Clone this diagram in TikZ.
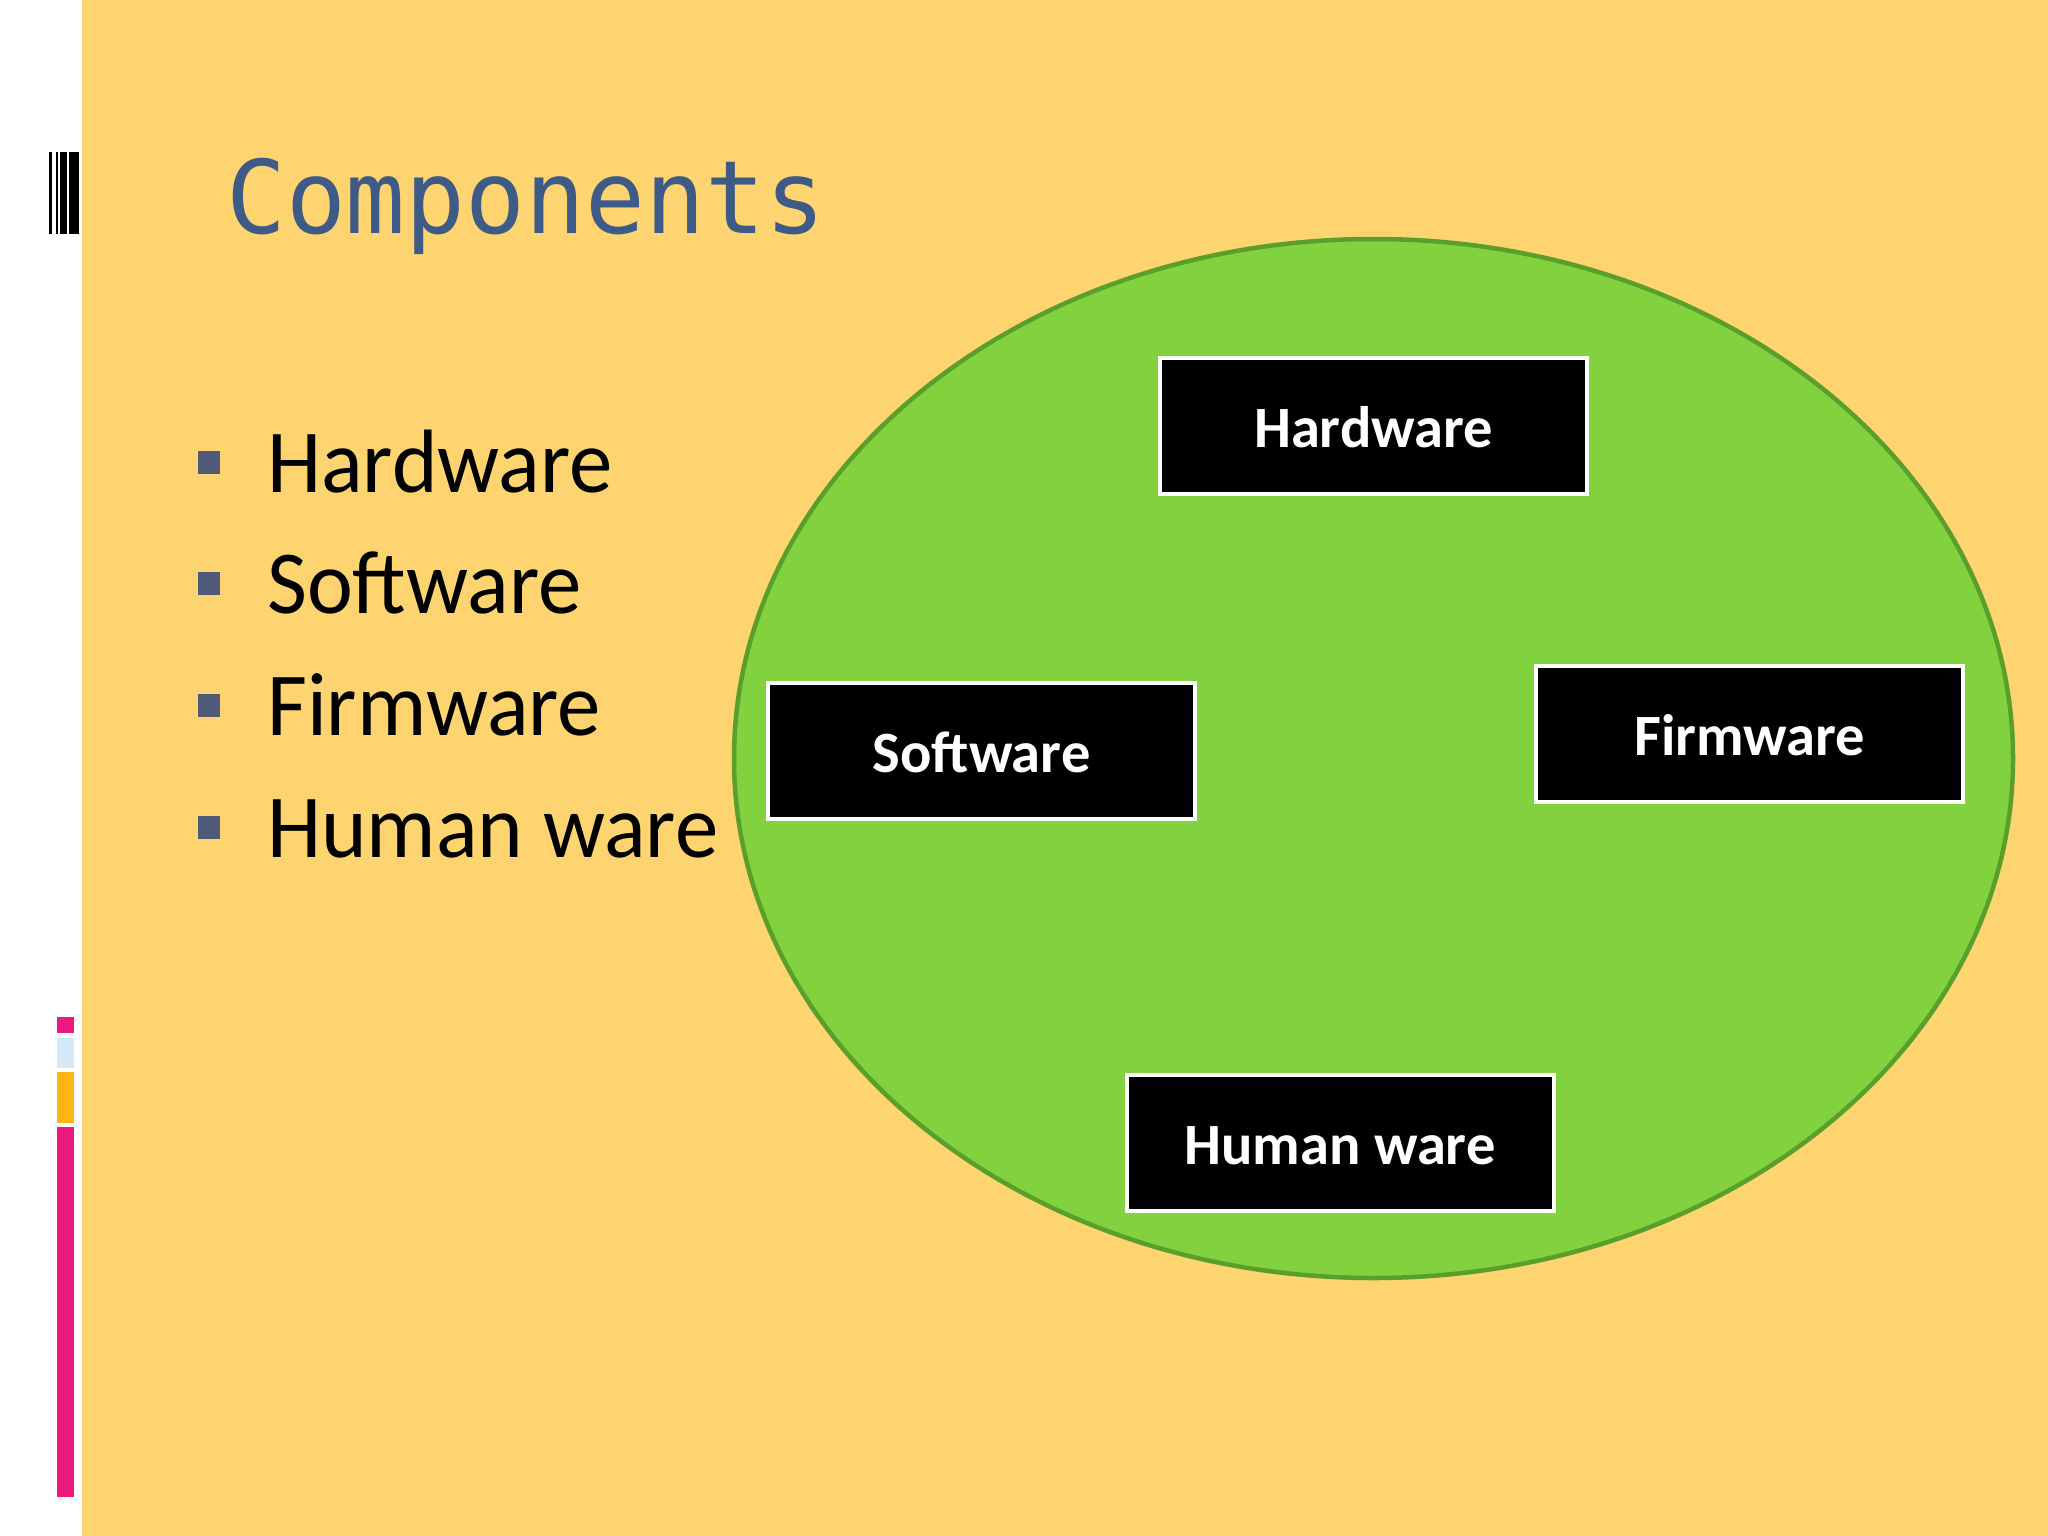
\documentclass[tikz,border=0pt]{standalone}
\usepackage{fontspec}
\newfontfamily\carlito{Carlito}
\newfontfamily\dvmono{DejaVu Sans Mono}
\definecolor{bgorange}{HTML}{FDD46F}
\definecolor{ellfill}{HTML}{82D13F}
\definecolor{elldraw}{HTML}{5A9E2B}
\definecolor{titleblue}{HTML}{3E5A86}
\definecolor{bulletgray}{HTML}{4F5A78}
\definecolor{barpink}{HTML}{EC1A7C}
\definecolor{barblue}{HTML}{D5E8F8}
\definecolor{barorange}{HTML}{FBB515}
\tikzset{
  compbox/.style={draw=white, line width=4pt, fill=black, text=white,
    minimum width=427pt, minimum height=136pt, inner sep=0pt,
    text height=42pt, text depth=0pt,
    font=\carlito\bfseries\fontsize{58.5}{60}\selectfont},
  bullettext/.style={anchor=base west, inner sep=0pt, text=black,
    font=\carlito\fontsize{90}{100}\selectfont},
  bulletsq/.style={fill=bulletgray, draw=none, minimum width=22pt, minimum height=23pt, inner sep=0pt},
  titletext/.style={anchor=base west, inner sep=0pt, text=titleblue,
    font=\dvmono\fontsize{101.5}{110}\selectfont}
}
\begin{document}
\begin{tikzpicture}[x=1pt,y=-1pt]
\useasboundingbox (0,0) rectangle (2048,1536);
% backgrounds
\fill[white] (0,0) rectangle (82,1536);
\fill[bgorange] (82,0) rectangle (2048,1536);
% barcode mark
\fill[black] (49.3,152) rectangle (51.7,234);
\fill[black] (55.7,152) rectangle (58.3,234);
\fill[black] (60,152) rectangle (66.7,234);
\fill[black] (69,152) rectangle (79,234);
% side bars
\fill[barpink] (57.3,1016.7) rectangle (74,1032.7);
\fill[barblue] (57.3,1037.7) rectangle (74,1067.7);
\fill[barorange] (57.3,1072.3) rectangle (74,1122.7);
\fill[barpink] (57.3,1127) rectangle (74,1496.7);
% title
\node[titletext] (title) at (226,233) {\scalebox{0.98}[1]{Components}};
% bullets
\node[bulletsq] (b1) at (209,462) {};
\node[bulletsq] (b2) at (209,583) {};
\node[bulletsq] (b3) at (209,705) {};
\node[bulletsq] (b4) at (209,827) {};
\node[bullettext] (t1) at (267,492) {\scalebox{0.965}[1]{Hardware}};
\node[bullettext] (t2) at (267,613) {\scalebox{0.965}[1]{Software}};
\node[bullettext] (t3) at (267,735) {\scalebox{0.965}[1]{Firmware}};
\node[bullettext] (t4) at (267,857) {\scalebox{0.965}[1]{Human ware}};
% ellipse
\coordinate (ec) at (1373.5,758.5);
\draw[fill=ellfill, draw=elldraw, line width=4.5pt] (ec) ellipse [x radius=639.5pt, y radius=519.5pt];
% boxes
\node[compbox] (hw) at (1373.5,426) {Hardware};
\node[compbox] (sw) at (981.5,751) {Software};
\node[compbox] (fw) at (1749.5,734) {Firmware};
\node[compbox] (hu) at (1340,1143) {Human ware};
\end{tikzpicture}
\end{document}
